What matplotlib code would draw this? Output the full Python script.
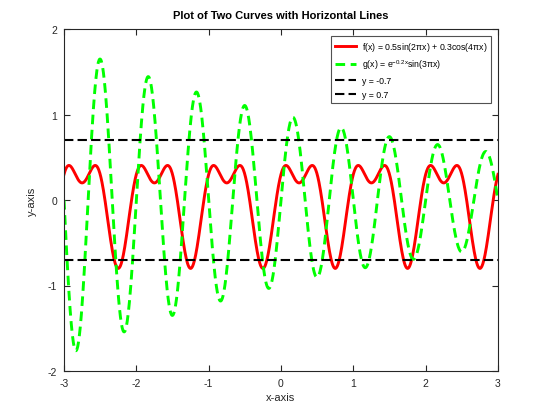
import numpy as np
import matplotlib
matplotlib.use("Agg")
import matplotlib.pyplot as plt

plt.rcParams['font.family'] = ['Liberation Sans', 'DejaVu Sans']
plt.rcParams['mathtext.fontset'] = 'custom'
plt.rcParams['mathtext.rm'] = 'Liberation Sans'
plt.rcParams['mathtext.it'] = 'Liberation Sans'
plt.rcParams['axes.unicode_minus'] = False

# Data (function definitions as stated in the legend)
x_range = [-3, 3]
n_points = 1201
f_coeffs = [0.5, 0.3]          # f(x) = 0.5 sin(2πx) + 0.3 cos(4πx)
g_params = [-0.2, 3]           # g(x) = e^{-0.2x} sin(3πx)
hlines = [-0.7, 0.7]
xticks = [-3, -2, -1, 0, 1, 2, 3]
yticks = [-2, -1, 0, 1, 2]

x = np.linspace(x_range[0], x_range[1], n_points)
f = f_coeffs[0] * np.sin(2 * np.pi * x) + f_coeffs[1] * np.cos(4 * np.pi * x)
g = np.exp(g_params[0] * x) * np.sin(g_params[1] * np.pi * x)

fig = plt.figure(figsize=(5.39, 4.14), dpi=100)
ax = fig.add_axes([64/539, 42/414, 434/539, 342/414])

ax.plot(x, f, color='#ff0000', lw=2.1, label=r'f(x) = 0.5sin(2$\pi$x) + 0.3cos(4$\pi$x)')
ax.plot(x, g, color='#00ff00', lw=2.1, dashes=(3.3, 1.9),
        label=r'g(x) = e$^{-0.2x}$sin(3$\pi$x)')
ax.plot(x_range, [hlines[0]] * 2, color='black', lw=1.5, dashes=(4.5, 2), label='y = -0.7')
ax.plot(x_range, [hlines[1]] * 2, color='black', lw=1.5, dashes=(4.5, 2), label='y = 0.7')

ax.set_xlim(x_range)
ax.set_ylim(-2, 2)
ax.set_xticks(xticks)
ax.set_yticks(yticks)
ax.tick_params(direction='in', top=True, right=True, labelsize=7.5, length=4, color='#262626',
               labelcolor='#262626', pad=5)
for s in ax.spines.values():
    s.set_color('#262626')
    s.set_linewidth(0.8)

ax.set_title('Plot of Two Curves with Horizontal Lines', fontsize=8, fontweight='bold', pad=8)
ax.set_xlabel('x-axis', fontsize=8, labelpad=3, color='#262626')
ax.set_ylabel('y-axis', fontsize=8, labelpad=8, color='#262626')

leg = ax.legend(loc='upper right', fontsize=6.3, frameon=True, fancybox=False,
                edgecolor='#262626', handlelength=2.4, borderpad=0.45, labelspacing=0.55,
                handletextpad=0.7, borderaxespad=0, bbox_to_anchor=(0.984, 0.98))
leg.get_frame().set_linewidth(0.8)

fig.savefig('out.png', dpi=100)
